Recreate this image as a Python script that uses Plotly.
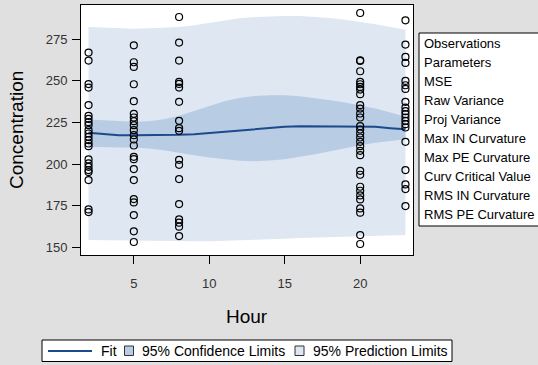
import plotly.graph_objects as go

# ---------------- data ----------------
obs_hour_2 = [267, 262.2, 248.1, 246, 235.5, 229, 227.2, 225.2, 223.4, 220.4, 218.4, 216.4,
              214.4, 212.4, 210.8, 202.8, 200.4, 198.4, 196.4, 195.2, 190.4, 172.8, 171.2]
obs_hour_5 = [271.4, 261.2, 258.4, 248, 237.8, 230.2, 228, 225.8, 223.4, 220.4, 217.4, 214.8,
              211.2, 204.4, 203, 197, 190.4, 179, 177, 169.4, 159.6, 153.2]
obs_hour_8 = [288.4, 273, 262.2, 249.4, 248.2, 246, 237.4, 226, 221.6, 220, 202.6, 199.6,
              191, 176, 166.8, 164.8, 162.4, 156.8]
obs_hour_20 = [290.8, 262.4, 262, 255.8, 249.4, 248, 246.4, 244.8, 242, 235.4, 233.4, 230.4,
               228, 222.8, 220.8, 218.4, 216, 213.4, 210.8, 208, 205.4, 196, 193.6, 186.4,
               184, 181.2, 178.8, 173.4, 170.8, 157.4, 152]
obs_hour_23 = [286.4, 271.8, 264.4, 260.8, 250, 247.4, 245.2, 237.4, 234, 231.8, 230, 228,
               226, 224, 222, 213.4, 196.4, 187.8, 185, 174.8]

grid_hour = [2, 3, 4, 5, 6, 7, 8, 9, 10, 11, 12, 13, 14, 15, 16, 17, 18, 19, 20, 21, 22, 23]
fit_value = [218.8, 218.2, 217.4, 217.4, 217.4, 217.4, 217.6, 218.0, 218.8, 219.6, 220.4,
             221.2, 221.8, 222.4, 222.8, 222.8, 222.8, 222.8, 222.8, 222.4, 221.6, 221.0]
cl_upper = [226.8, 226.4, 225.8, 225.4, 225.8, 227.0, 229.0, 231.8, 235.0, 237.8, 239.8,
            241.0, 241.4, 241.4, 240.8, 239.8, 238.4, 237.0, 235.4, 233.4, 231.0, 228.4]
cl_lower = [210.4, 210.0, 210.0, 210.0, 209.4, 208.4, 207.0, 205.4, 204.0, 202.8, 202.0,
            201.8, 202.2, 203.0, 204.4, 206.0, 207.8, 209.8, 211.4, 212.8, 214.0, 215.0]
pl_upper = [282.4, 282.0, 281.6, 281.4, 281.6, 282.0, 282.4, 283.4, 284.8, 286.4, 287.6,
            288.4, 288.8, 289.0, 289.0, 288.6, 287.8, 286.8, 285.6, 284.0, 282.4, 280.8]
pl_lower = [154.4, 154.2, 154.1, 154.0, 153.9, 153.8, 153.8, 153.7, 153.6, 153.8, 154.0,
            154.4, 154.8, 155.2, 155.6, 156.0, 156.4, 156.6, 156.8, 157.0, 157.2, 157.4]

x_ticks = [5, 10, 15, 20]
y_ticks = [150, 175, 200, 225, 250, 275]

table_labels = ["Observations", "Parameters", "MSE", "Raw Variance", "Proj Variance",
                "Max IN Curvature", "Max PE Curvature", "Curv Critical Value",
                "RMS IN Curvature", "RMS PE Curvature"]
legend_labels = ["Fit", "95% Confidence Limits", "95% Prediction Limits"]

# ---------------- styling ----------------
W, H = 538, 365
ML, MR, MT, MB = 81, 125, 5, 110
PW, PH = W - ML - MR, H - MT - MB
BG = "#e0e0e0"
FIT_C = "#1c4a8c"
CL_C = "#b8cce4"
PL_C = "#dfe7f2"
FONT = "Liberation Sans, Arial, sans-serif"


def px(xp):
    return (xp - ML) / PW


def py(yp):
    return (H - MB - yp) / PH


fig = go.Figure()

# prediction band
fig.add_trace(go.Scatter(x=grid_hour + grid_hour[::-1], y=pl_upper + pl_lower[::-1],
                         fill="toself", fillcolor=PL_C, line=dict(width=0),
                         mode="lines", hoverinfo="skip", showlegend=False))
# confidence band
fig.add_trace(go.Scatter(x=grid_hour + grid_hour[::-1], y=cl_upper + cl_lower[::-1],
                         fill="toself", fillcolor=CL_C, line=dict(width=0),
                         mode="lines", hoverinfo="skip", showlegend=False))
# fit
fig.add_trace(go.Scatter(x=grid_hour, y=fit_value, mode="lines",
                         line=dict(color=FIT_C, width=2), showlegend=False))
# observations
obs_x, obs_y = [], []
for h, vals in [(2, obs_hour_2), (5, obs_hour_5), (8, obs_hour_8),
                (20, obs_hour_20), (23, obs_hour_23)]:
    obs_x += [h] * len(vals)
    obs_y += vals
fig.add_trace(go.Scatter(x=obs_x, y=obs_y, mode="markers",
                         marker=dict(symbol="circle-open", size=7, color="black",
                                     line=dict(width=1.2, color="black")),
                         showlegend=False))

fig.update_layout(
    width=W, height=H,
    margin=dict(l=ML, r=MR, t=MT, b=MB, pad=0),
    paper_bgcolor=BG, plot_bgcolor="white",
    font=dict(family=FONT, size=13, color="#333333"),
    showlegend=False,
)
fig.update_xaxes(range=[1.5, 23.5], tickvals=x_ticks, ticks="outside", ticklen=8,
                 tickcolor="black", showgrid=False, zeroline=False, showline=True,
                 linecolor="black", linewidth=1, mirror=True,
                 tickfont=dict(size=13, color="#333333"), ticklabelstandoff=8)
fig.update_yaxes(range=[145.4, 295.6], tickvals=y_ticks, ticks="outside", ticklen=8,
                 tickcolor="black", showgrid=False, zeroline=False, showline=True,
                 linecolor="black", linewidth=1, mirror=True,
                 tickfont=dict(size=13, color="#333333"), ticklabelstandoff=2)

ann = []
shapes = []
# axis titles
ann.append(dict(text="Hour", x=px(247), y=py(316), xref="paper", yref="paper",
                showarrow=False, font=dict(size=19, color="black"),
                xanchor="center", yanchor="middle"))
ann.append(dict(text="Concentration", x=px(16), y=py(130), xref="paper", yref="paper",
                showarrow=False, textangle=-90, font=dict(size=19, color="black"),
                xanchor="center", yanchor="middle"))

# statistics table on the right
shapes.append(dict(type="rect", xref="paper", yref="paper",
                   x0=px(419), x1=px(560), y0=py(33), y1=py(226),
                   line=dict(color="black", width=1), fillcolor="white", layer="above"))
row_y = [43.3, 62.3, 81.5, 100.5, 119.3, 138.3, 157.3, 176.5, 195.8, 214.8]
for lab, yy in zip(table_labels, row_y):
    ann.append(dict(text=lab, x=px(422), y=py(yy), xref="paper", yref="paper",
                    showarrow=False, xanchor="left", yanchor="middle",
                    font=dict(size=13, color="black")))

# legend at the bottom
shapes.append(dict(type="rect", xref="paper", yref="paper",
                   x0=px(42), x1=px(452), y0=py(340), y1=py(361.5),
                   line=dict(color="black", width=1), fillcolor="white", layer="above"))
shapes.append(dict(type="line", xref="paper", yref="paper",
                   x0=px(48), x1=px(92), y0=py(351), y1=py(351),
                   line=dict(color=FIT_C, width=2), layer="above"))
shapes.append(dict(type="rect", xref="paper", yref="paper",
                   x0=px(124.5), x1=px(133.5), y0=py(346), y1=py(355.5),
                   line=dict(color="#333333", width=1), fillcolor=CL_C, layer="above"))
shapes.append(dict(type="rect", xref="paper", yref="paper",
                   x0=px(295), x1=px(304), y0=py(346), y1=py(355.5),
                   line=dict(color="#333333", width=1), fillcolor=PL_C, layer="above"))
for lab, xx in zip(legend_labels, [98.5, 140, 311]):
    ann.append(dict(text=lab, x=px(xx), y=py(351), xref="paper", yref="paper",
                    showarrow=False, xanchor="left", yanchor="middle",
                    font=dict(size=14, color="black")))

fig.update_layout(annotations=ann, shapes=shapes)
fig.write_html("out.html",
               config={"displayModeBar": False},
               post_script="document.body.style.margin='0';"
                           "document.body.style.padding='0';"
                           "document.body.style.overflow='hidden';")
